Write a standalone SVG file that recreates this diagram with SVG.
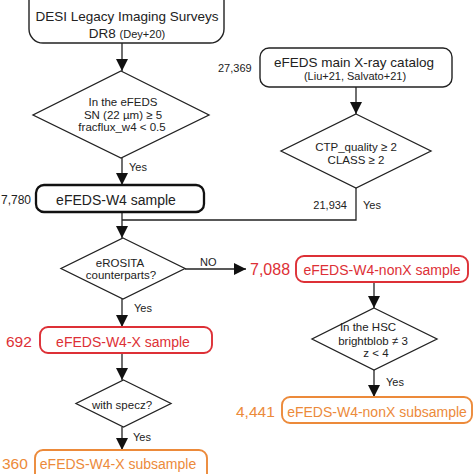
<svg xmlns="http://www.w3.org/2000/svg" width="474" height="474" viewBox="0 0 474 474">
<defs>
<marker id="ah" markerUnits="userSpaceOnUse" markerWidth="12" markerHeight="12" viewBox="0 0 12 12" refX="12" refY="6" orient="auto">
<path d="M0,0 L12,6 L0,12 Z" fill="#111"/>
</marker>
<style>
text{font-family:"Liberation Sans",Arial,sans-serif;fill:#222}
.box{fill:#fff;stroke:#222;stroke-width:1.4}
.dia{fill:#fff;stroke:#222;stroke-width:1.3}
.red{fill:#fff;stroke:#dd3036;stroke-width:1.9}
.org{fill:#fff;stroke:#ec8a3a;stroke-width:1.9}
.t14{font-size:14px;text-anchor:middle}
.t13{font-size:13.5px;text-anchor:middle}
.t11{font-size:11px;text-anchor:middle}
.d{font-size:11.5px;text-anchor:middle}
.lab{font-size:11px}
.rt{fill:#dd3036}
.ot{fill:#ec8a3a}
.num{font-size:15.5px}
.con{fill:none;stroke:#222;stroke-width:1.3}
</style>
</defs>
<g id="connectors">
<path class="con" d="M122,43 V71" marker-end="url(#ah)"/>
<path class="con" d="M122,158 V185" marker-end="url(#ah)"/>
<path class="con" d="M356,87 V114" marker-end="url(#ah)"/>
<path class="con" d="M356,188 V220 H122"/>
<path class="con" d="M122,212 V238" marker-end="url(#ah)"/>
<path class="con" d="M185,269 H246" marker-end="url(#ah)"/>
<path class="con" d="M122,299 V327" marker-end="url(#ah)"/>
<path class="con" d="M122,353 V380" marker-end="url(#ah)"/>
<path class="con" d="M122,427 V450" marker-end="url(#ah)"/>
<path class="con" d="M374,282 V308" marker-end="url(#ah)"/>
<path class="con" d="M374,370 V397" marker-end="url(#ah)"/>
<text class="lab" x="129" y="171">Yes</text>
<text class="lab" x="347" y="209" text-anchor="end">21,934</text>
<text class="lab" x="363" y="209">Yes</text>
<text class="lab" x="200" y="266">NO</text>
<text class="lab" x="134" y="312">Yes</text>
<text class="lab" x="133" y="441">Yes</text>
<text class="lab" x="386" y="386">Yes</text>
</g>
<g id="desi">
<rect class="box" x="29" y="-14" width="195" height="57" rx="14"/>
<text class="t13" x="127" y="21">DESI Legacy Imaging Surveys</text>
<text class="t13" x="127" y="38">DR8 <tspan font-size="11px">(Dey+20)</tspan></text>
</g>
<g id="efeds-main">
<rect class="box" x="260" y="48" width="192" height="39" rx="9"/>
<text class="t13" x="354" y="67">eFEDS main X-ray catalog</text>
<text class="t11" x="355" y="80">(Liu+21, Salvato+21)</text>
<text class="lab" x="218" y="72">27,369</text>
</g>
<g id="cond1">
<polygon class="dia" points="121,71 209,115 121,158 33,115"/>
<text class="d" x="123" y="106">In the eFEDS</text>
<text class="d" x="123" y="119">SN (22 µm) ≥ 5</text>
<text class="d" x="122" y="131">fracflux_w4 &lt; 0.5</text>
</g>
<g id="ctp">
<polygon class="dia" points="356,114 431,151 356,188 281,151"/>
<text class="d" x="356" y="151">CTP_quality ≥ 2</text>
<text class="d" x="356" y="164">CLASS ≥ 2</text>
</g>
<g id="w4">
<rect x="36" y="185" width="168" height="27" rx="8" fill="#fff" stroke="#111" stroke-width="2.3"/>
<text class="t14" x="116" y="205">eFEDS-W4 sample</text>
<text x="31" y="204" font-size="12px" text-anchor="end">7,780</text>
</g>
<g id="erosita">
<polygon class="dia" points="123,238 185,268.5 123,299 61,268.5"/>
<text class="d" x="120" y="267">eROSITA</text>
<text class="d" x="121" y="279">counterparts?</text>
</g>
<g id="nonx">
<rect class="red" x="296" y="256" width="172" height="26" rx="8"/>
<text class="t14 rt" x="382" y="275">eFEDS-W4-nonX sample</text>
<text class="rt" x="250" y="275" font-size="16px">7,088</text>
</g>
<g id="hsc">
<polygon class="dia" points="374,308 437,339 374,370 312,339"/>
<text class="d" x="368" y="331">In the HSC</text>
<text class="d" x="373" y="345">brightblob ≠ 3</text>
<text class="d" x="376" y="357">z &lt; 4</text>
</g>
<g id="nonx-sub">
<rect class="org" x="282" y="397" width="190" height="26" rx="8"/>
<text class="t14 ot" x="377" y="417">eFEDS-W4-nonX subsample</text>
<text class="ot num" x="236" y="417">4,441</text>
</g>
<g id="xs">
<rect class="red" x="40" y="327" width="172" height="26" rx="8"/>
<text class="t14 rt" x="123" y="347">eFEDS-W4-X sample</text>
<text class="rt num" x="6" y="347">692</text>
</g>
<g id="specz">
<polygon class="dia" points="123.5,380 171,403.5 123.5,427 76,403.5"/>
<text class="d" x="122" y="409">with specz?</text>
</g>
<g id="x-sub">
<rect class="org" x="35" y="450" width="172" height="40" rx="8"/>
<text class="t14 ot" x="118" y="469">eFEDS-W4-X subsample</text>
<text class="ot num" x="2" y="469">360</text>
</g>
</svg>
